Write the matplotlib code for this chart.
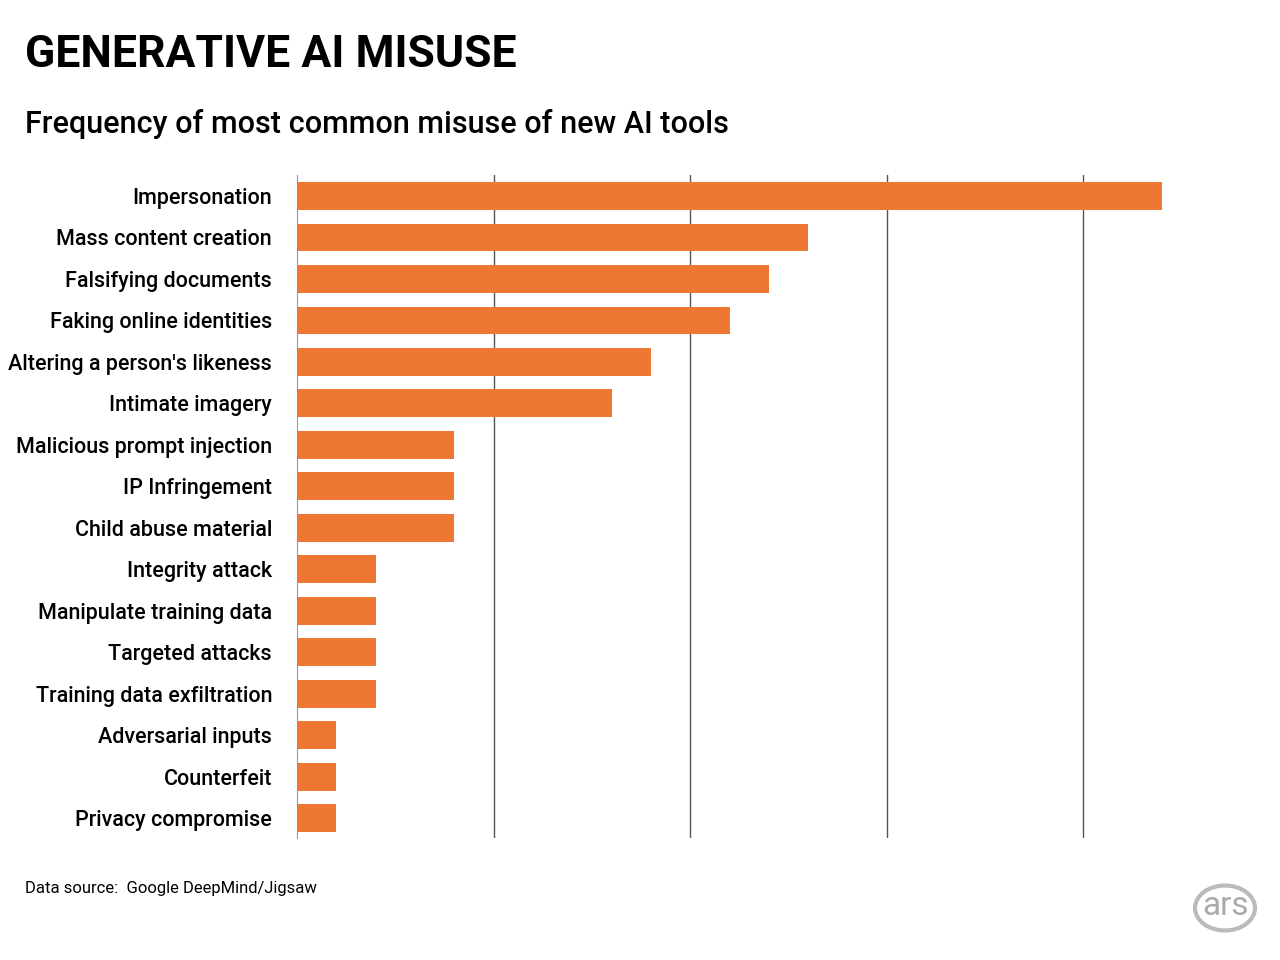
import matplotlib
matplotlib.use("Agg")
import matplotlib.pyplot as plt
from matplotlib.patches import Circle

categories = ["Impersonation", "Mass content creation", "Falsifying documents",
              "Faking online identities", "Altering a person's likeness", "Intimate imagery",
              "Malicious prompt injection", "IP Infringement", "Child abuse material",
              "Integrity attack", "Manipulate training data", "Targeted attacks",
              "Training data exfiltration", "Adversarial inputs", "Counterfeit",
              "Privacy compromise"]
values = [22, 13, 12, 11, 9, 8, 4, 4, 4, 2, 2, 2, 2, 1, 1, 1]

plt.rcParams["font.family"] = ["Roboto", "DejaVu Sans"]

fig = plt.figure(figsize=(12.8, 9.6), dpi=100)
ax = fig.add_axes([297/1280, 1-838/960, 983/1280, (838-175)/960])
n = len(categories)
y = list(range(n))
ax.barh(y, values, height=0.67, color="#ee7733", zorder=3)
ax.set_ylim(15.48, -0.506)
ax.set_xlim(0, 25)
ax.set_xticks([5, 10, 15, 20])
ax.set_xticklabels([])
ax.tick_params(axis="x", length=0)
ax.grid(axis="x", color="#555555", linewidth=1, zorder=0)
ax.set_yticks(y)
ax.set_yticklabels(categories, fontsize=15.5, fontweight="medium")
ax.tick_params(axis="y", length=0, pad=18)
for s in ["top", "right", "bottom"]:
    ax.spines[s].set_visible(False)
ax.spines["left"].set_color("#999999")

fig.text(25/1280, 1-55/960, "GENERATIVE AI MISUSE", fontsize=32, fontweight="bold", va="center")
fig.text(25/1280, 1-124/960, "Frequency of most common misuse of new AI tools", fontsize=22, fontweight="medium", va="center")
fig.text(25/1280, 1-889/960, "Data source:  Google DeepMind/Jigsaw", fontsize=12, va="center")
c = Circle((1225/1280, 1-908/960), 30/1280, transform=fig.transFigure, fill=False, edgecolor="#bbbbbb", linewidth=3)
fig.patches.append(c)
fig.text(1225/1280, 1-906/960, "ars", fontsize=24, color="#aaaaaa", ha="center", va="center")
fig.savefig("out.png")
